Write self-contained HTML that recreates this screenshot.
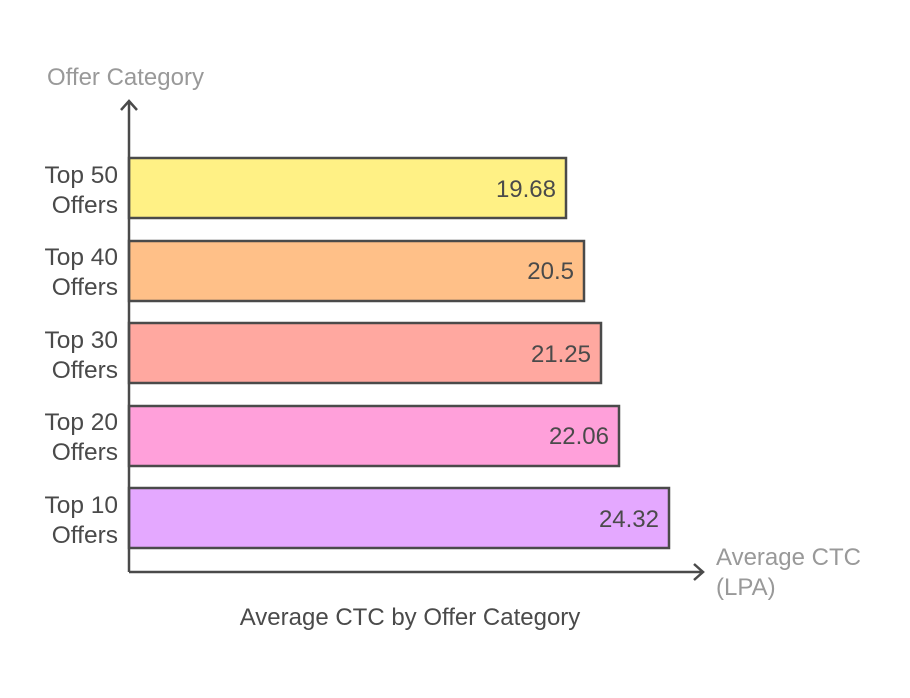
<!DOCTYPE html>
<html><head><style>body{margin:0;background:#fff}</style></head><body>
<svg width="910" height="693" xmlns="http://www.w3.org/2000/svg" font-family="Liberation Sans, sans-serif">
<rect width="910" height="693" fill="#fff"/>
<g stroke="#4a4a4a" stroke-width="2.5">
<rect x="129" y="158" width="437" height="60" fill="#fff185"/>
<rect x="129" y="241" width="455" height="60" fill="#ffc088"/>
<rect x="129" y="323" width="472" height="60" fill="#ffa8a0"/>
<rect x="129" y="406" width="490" height="60" fill="#ffa0da"/>
<rect x="129" y="488" width="540" height="60" fill="#e4a8ff"/>
<path d="M129 572V101M121 110L129 101L137 110M129 572H703M694 564L703 572L694 580" fill="none"/>
</g>
<g font-size="24" fill="#4a4a4a" text-anchor="end">
<text x="556" y="197">19.68</text>
<text x="574" y="279">20.5</text>
<text x="591" y="362">21.25</text>
<text x="609" y="444">22.06</text>
<text x="659" y="527">24.32</text>
</g>
<g font-size="24.5" fill="#4a4a4a" text-anchor="end">
<text x="118" y="183">Top 50</text><text x="118" y="213">Offers</text>
<text x="118" y="265">Top 40</text><text x="118" y="295">Offers</text>
<text x="118" y="348">Top 30</text><text x="118" y="378">Offers</text>
<text x="118" y="430">Top 20</text><text x="118" y="460">Offers</text>
<text x="118" y="513">Top 10</text><text x="118" y="543">Offers</text>
</g>
<g font-size="24" fill="#999">
<text x="47" y="85">Offer Category</text>
<text x="716" y="565">Average CTC</text>
<text x="716" y="595">(LPA)</text>
</g>
<text x="410" y="625" font-size="24" fill="#4a4a4a" text-anchor="middle">Average CTC by Offer Category</text>
</svg>
</body></html>
